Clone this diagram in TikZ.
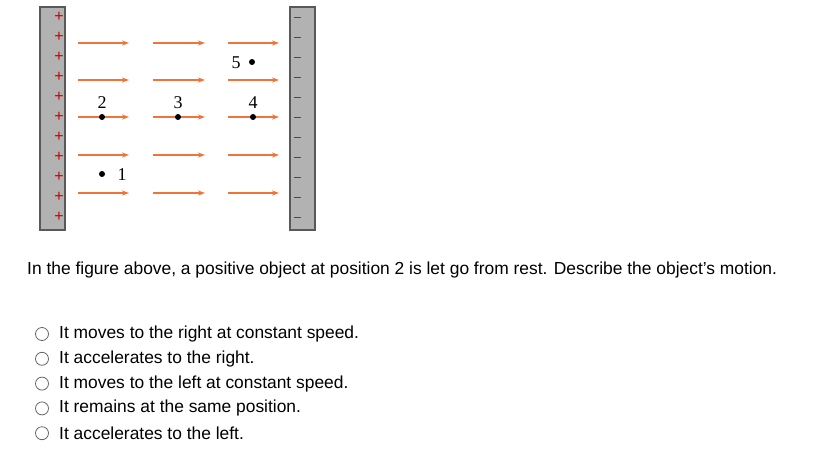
\documentclass[tikz,border=0pt]{standalone}
\usepackage{fontspec}
\setmainfont{Liberation Sans}
\newfontfamily\serifnum{Liberation Serif}
\usetikzlibrary{arrows.meta}
\definecolor{fieldc}{HTML}{F0743A}
\tikzset{
 plate/.style={draw=gray!70!black,fill=gray!60,line width=1.2pt},
 field/.style={draw=fieldc,line width=1.2pt,-{Stealth[length=7pt,width=5pt]}},
 pt/.style={circle,fill=black,inner sep=0pt,minimum size=6pt},
 lab/.style={font=\serifnum\fontsize{18}{18}\selectfont,inner sep=1pt},
 q/.style={anchor=west,font=\fontsize{17.4}{20}\selectfont,inner sep=0pt},
 opt/.style={circle,draw=gray!80!black,line width=0.8pt,minimum size=13pt,inner sep=0pt},
 minus/.style={draw=blue!80,line width=1pt}
}
\begin{document}
\begin{tikzpicture}[x=1pt,y=-1pt]
\useasboundingbox (0,0) rectangle (838,461);
\draw[plate] (40,7) rectangle (65,230);
\draw[plate] (290,7) rectangle (315,230);
\foreach \i in {0,...,10}{
 \node[text=red!80!black,font=\fontsize{16}{16}\selectfont,inner sep=0pt] (p\i) at (59,{17+20*\i}) {+};
 \coordinate (ma\i) at (294,{17+20*\i});
 \coordinate (mb\i) at (301,{17+20*\i});
 \draw[minus] (ma\i) -- (mb\i);
}
\foreach \y [count=\r] in {43,80,117,155,193}{
 \foreach \xa/\xb [count=\c] in {78/129,153/205,228/279}{
  \coordinate (s\r\c) at (\xa,\y);
  \coordinate (e\r\c) at (\xb,\y);
  \draw[field] (s\r\c) -- (e\r\c);
 }
}
\node[pt] (d2) at (102,117) {};
\node[pt] (d3) at (178,117) {};
\node[pt] (d4) at (253,117) {};
\node[pt] (d5) at (252,62) {};
\node[pt] (d1) at (102,174) {};
\node[lab] (l2) at (102,103) {2};
\node[lab] (l3) at (178,103) {3};
\node[lab] (l4) at (253,103) {4};
\node[lab] (l5) at (236,63) {5};
\node[lab] (l1) at (122,175) {1};
\node[q] (qq) at (27,270) {In the figure above, a positive object at position 2 is let go from rest. Describe the object's motion.};
\foreach \t [count=\k] in {It moves to the right at constant speed.,It accelerates to the right.,It moves to the left at constant speed.,It remains at the same position.,It accelerates to the left.}{
 \node[opt] (c\k) at (42,{334+24.8*(\k-1)}) {};
 \node[q] (o\k) at (59,{334+24.8*(\k-1)}) {\t};
}
\end{tikzpicture}
\end{document}
